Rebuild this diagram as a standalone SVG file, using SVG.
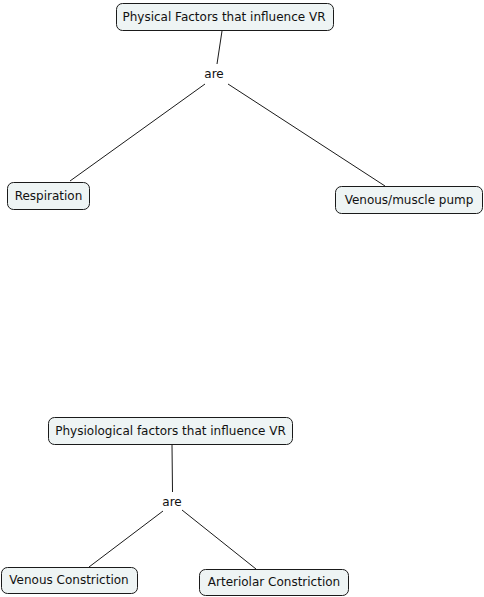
<svg xmlns="http://www.w3.org/2000/svg" width="484" height="597" viewBox="0 0 484 597">
<style>
.n rect{fill:#eef4f4;stroke:#1a1a1a;stroke-width:1;}
text{font-family:"DejaVu Sans",Verdana,sans-serif;font-size:12px;fill:#111;text-anchor:middle;dominant-baseline:central;}
.c line{stroke:#1a1a1a;stroke-width:1;}
</style>
<rect width="484" height="597" fill="#fff"/>
<g class="c" id="connectors">
<line x1="222" y1="31" x2="217" y2="64"/>
<line x1="205" y1="84" x2="70" y2="181"/>
<line x1="228" y1="84" x2="385" y2="186"/>
<line x1="172" y1="445" x2="172.5" y2="492"/>
<line x1="163" y1="511" x2="89" y2="567"/>
<line x1="182" y1="510" x2="256" y2="569"/>
</g>
<g class="n" id="n-physical"><rect x="116.5" y="3.5" width="217" height="27" rx="6"/><text x="224" y="16.5">Physical Factors that influence VR</text></g>
<g id="l-are1"><text x="214" y="74">are</text></g>
<g class="n" id="n-respiration"><rect x="7.5" y="182.5" width="82" height="27" rx="6"/><text x="48.5" y="195.5">Respiration</text></g>
<g class="n" id="n-venpump"><rect x="335.5" y="186.5" width="147" height="27" rx="6"/><text x="409" y="199.5">Venous/muscle pump</text></g>
<g class="n" id="n-physiological"><rect x="48.5" y="417.5" width="244" height="27" rx="6"/><text x="170.5" y="430.5">Physiological factors that influence VR</text></g>
<g id="l-are2"><text x="172" y="502">are</text></g>
<g class="n" id="n-vencon"><rect x="1.5" y="567.5" width="136" height="26" rx="6"/><text x="69" y="580">Venous Constriction</text></g>
<g class="n" id="n-artcon"><rect x="199.5" y="569.5" width="149" height="26" rx="6"/><text x="274" y="582">Arteriolar Constriction</text></g>
</svg>
